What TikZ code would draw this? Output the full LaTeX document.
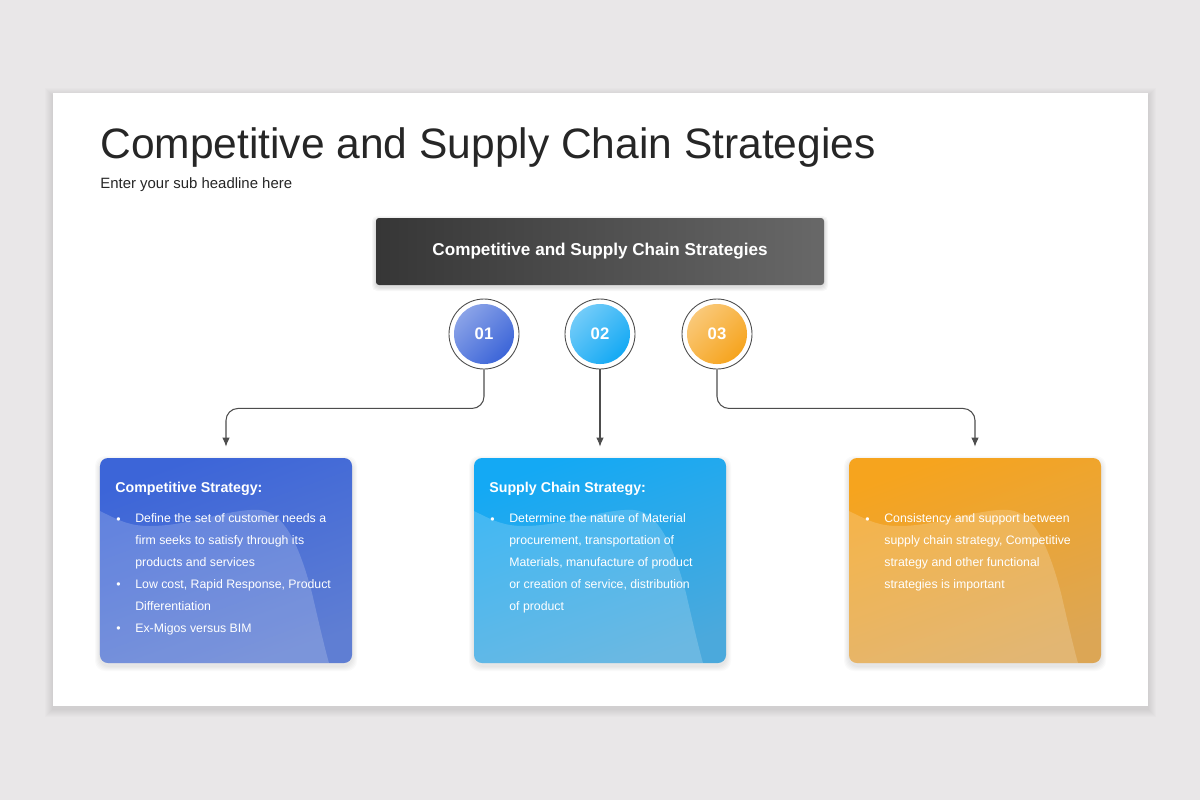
\documentclass[tikz,border=0pt]{standalone}
\usepackage{fontspec}
\setmainfont{Liberation Sans}
\usetikzlibrary{arrows.meta,positioning,calc}
\definecolor{PageGray}{HTML}{E9E7E8}
\definecolor{TitleInk}{HTML}{262626}
\definecolor{HeadDark}{HTML}{363636}
\definecolor{HeadLight}{HTML}{686868}
\definecolor{LinkGray}{HTML}{4D4D4D}
\definecolor{CompBlue}{HTML}{3C65D8}
\definecolor{CompBlueLt}{HTML}{5F7ED3}
\definecolor{SupplySky}{HTML}{14A9F4}
\definecolor{SupplySkyLt}{HTML}{4BA9DC}
\definecolor{ConsOrange}{HTML}{F6A41E}
\definecolor{ConsOrangeLt}{HTML}{DCA655}
\tikzset{
  stratbox/.style={rounded corners=1.6mm,minimum width=50.4mm,minimum height=41mm,inner sep=0pt},
  numring/.style={circle,draw=LinkGray,line width=0.5pt,fill=white,minimum size=14mm,inner sep=0pt},
  numdot/.style={circle,minimum size=12mm,inner sep=0pt,text=white,font=\bfseries\fontsize{9.5}{11}\selectfont},
  link/.style={-{Latex[length=1.8mm,width=1.5mm]},line width=0.6pt,LinkGray,rounded corners=2.4mm},
  boxhead/.style={anchor=base west,inner sep=0pt,text=white,font=\bfseries\fontsize{8.1}{10}\selectfont},
  dotmark/.style={anchor=base west,inner sep=0pt,text=white,font=\fontsize{7}{12.4}\selectfont},
  itemtxt/.style={anchor=base west,inner sep=0pt,text=white,align=left,font=\fontsize{7}{12.4}\selectfont}
}
\begin{document}
\begin{tikzpicture}[x=0.2mm,y=-0.2mm]
\fill[PageGray] (0,0) rectangle (1200,800);
\useasboundingbox (0,0) rectangle (1200,800);
% soft card shadow
\foreach \s in {1,...,8}
  \fill[black,opacity=0.01] (53-\s,93-\s+3) rectangle (1148+\s,706+\s+3);
\fill[white] (53,93) rectangle (1148,706);

% title and sub headline
\node[anchor=base west,inner sep=0pt,text=TitleInk,font=\fontsize{24.2}{28}\selectfont] (title) at (100,158) {Competitive and Supply Chain Strategies};
\node[anchor=base west,inner sep=0pt,text=TitleInk,font=\fontsize{8.5}{10}\selectfont] (subtitle) at (100,188) {Enter your sub headline here};

% header bar
\foreach \s in {1,...,4}
  \fill[black,opacity=0.03,rounded corners=1mm] (376-\s,218-\s+2) rectangle (824+\s,285+\s+2);
\node[rounded corners=0.6mm,minimum width=89.6mm,minimum height=13.4mm,left color=HeadDark,right color=HeadLight,
  text=white,font=\bfseries\fontsize{9.75}{12}\selectfont] (head) at (600,251.5) {Competitive and Supply Chain Strategies};

% numbered circles
\node[numring] (c1) at (484,334) {};
\node[numring] (c2) at (600,334) {};
\node[numring] (c3) at (717,334) {};
\node[numdot,top color=CompBlue!60!white,bottom color=CompBlue,shading angle=45] at (c1) {01};
\node[numdot,top color=SupplySky!60!white,bottom color=SupplySky,shading angle=45] at (c2) {02};
\node[numdot,top color=ConsOrange!60!white,bottom color=ConsOrange,shading angle=45] at (c3) {03};

% strategy boxes
\foreach \bx in {100,474,849}
  \foreach \s in {1,...,5}
    \fill[black,opacity=0.02,rounded corners=2mm] (\bx-\s,458-\s+3) rectangle (\bx+252+\s,663+\s+3);
\node[stratbox,top color=CompBlue,bottom color=CompBlueLt,shading angle=20] (comp) at (226,560.5) {};
\node[stratbox,top color=SupplySky,bottom color=SupplySkyLt,shading angle=20] (supply) at (600,560.5) {};
\node[stratbox,top color=ConsOrange,bottom color=ConsOrangeLt,shading angle=20] (cons) at (975,560.5) {};
\foreach \bx in {100,474,849}{
  \begin{scope}[shift={(\bx,458)}]
    \clip[rounded corners=1.6mm] (0,0) rectangle (252,205);
    \fill[white,opacity=0.18] (0,53) .. controls (20,63) and (30,68) .. (50,68)
      .. controls (90,68) and (130,50) .. (160,52)
      .. controls (185,54) and (200,90) .. (212,135)
      .. controls (220,170) and (226,195) .. (229,205) -- (0,205) -- cycle;
  \end{scope}
}

% connectors
\draw[link] (c1.south) -- ++(0,39) -| ([yshift=2.2mm]comp.north);
\draw[link] (c2.south) -- ([yshift=2.2mm]supply.north);
\draw[link] (c3.south) -- ++(0,39) -| ([yshift=2.2mm]cons.north);

% box texts (item nodes sit on the baseline of their last line)
\node[boxhead] (comphead) at (115,492) {Competitive Strategy:};
\node[dotmark] at (116,523) {•};
\node[itemtxt] at (135,566) {Define the set of customer needs a\\firm seeks to satisfy through its\\products and services};
\node[dotmark] at (116,588) {•};
\node[itemtxt] at (135,610) {Low cost, Rapid Response, Product\\Differentiation};
\node[dotmark] at (116,632) {•};
\node[itemtxt] at (135,632) {Ex-Migos versus BIM};

\node[boxhead] (supplyhead) at (489,492) {Supply Chain Strategy:};
\node[dotmark] at (490,523) {•};
\node[itemtxt] at (509,610) {Determine the nature of Material\\procurement, transportation of\\Materials, manufacture of product\\or creation of service, distribution\\of product};

\node[dotmark] at (865,523) {•};
\node[itemtxt] at (884,588) {Consistency and support between\\supply chain strategy, Competitive\\strategy and other functional\\strategies is important};
\end{tikzpicture}
\end{document}
